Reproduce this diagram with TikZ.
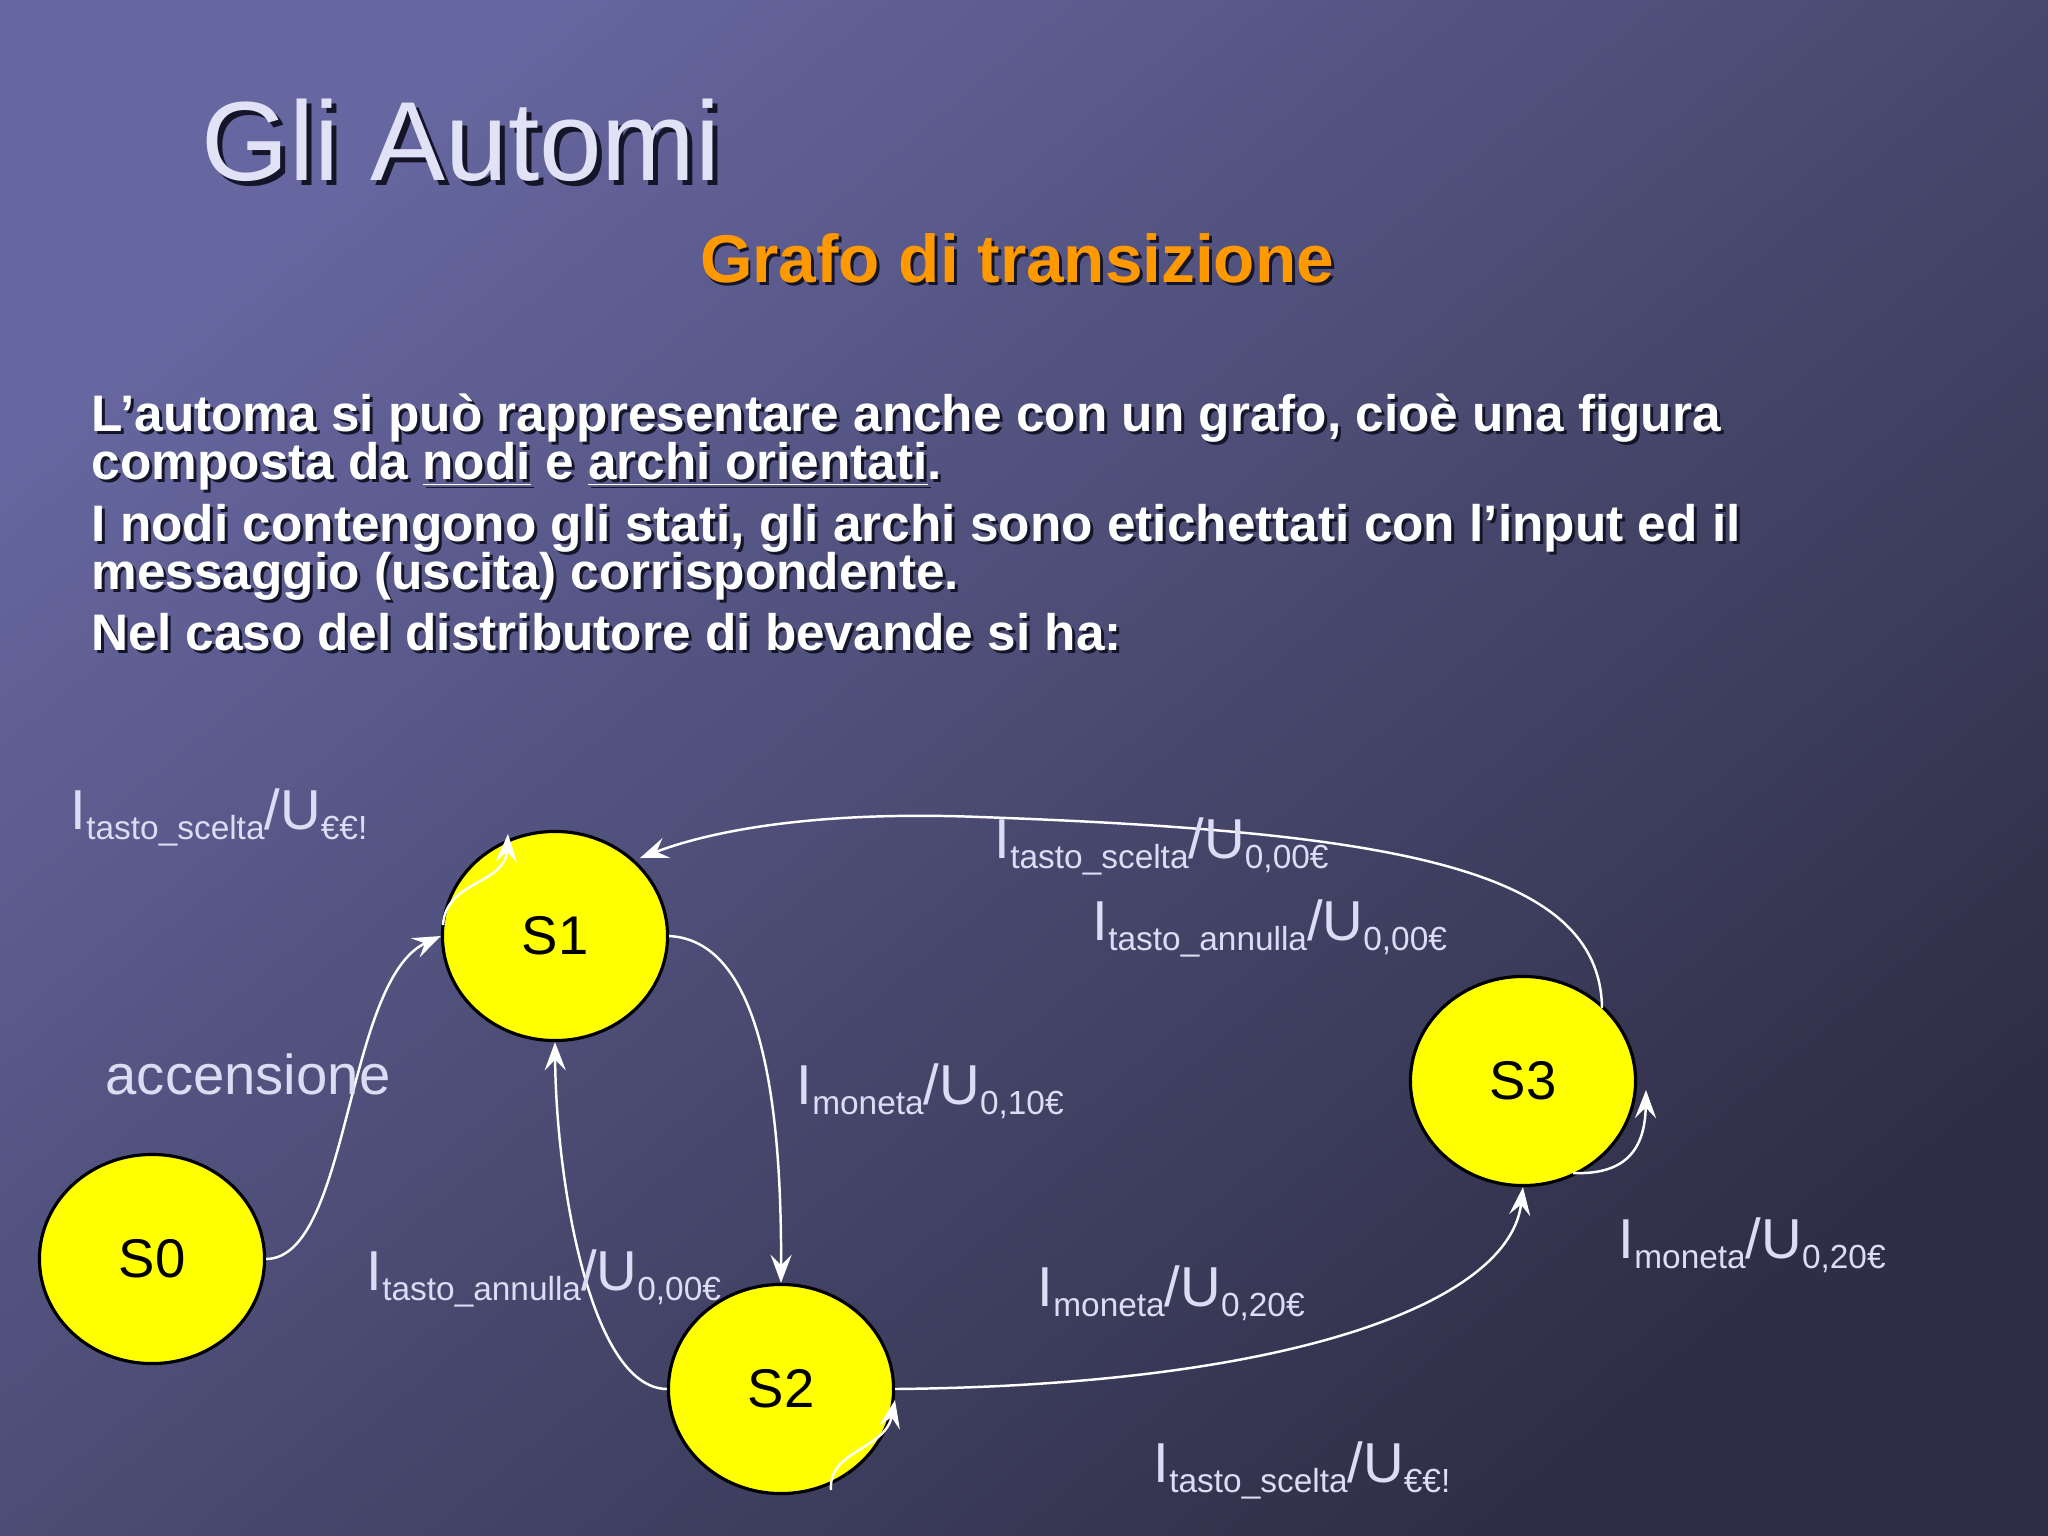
\documentclass[tikz,border=0pt]{standalone}
\usepackage{fontspec}
\setmainfont{Liberation Sans}
\usetikzlibrary{shapes.geometric,arrows.meta}
\definecolor{bgA}{HTML}{6666A0}
\definecolor{bgM}{HTML}{4A4A72}
\definecolor{bgB}{HTML}{2E2E46}
\definecolor{nodeyellow}{HTML}{FFFF00}
\definecolor{labcol}{HTML}{DCDCF4}
\definecolor{titlecol}{HTML}{E2E2F6}
\definecolor{orangecol}{HTML}{FF9900}
\definecolor{shadowcol}{HTML}{15152A}
\newcommand\trl[2]{I\raisebox{-3.1pt}{\fontsize{9.5}{11}\selectfont #1}/U\raisebox{-3.1pt}{\fontsize{9.5}{11}\selectfont #2}}
\tikzset{
  statenode/.style={ellipse, draw=black, line width=0.9pt, fill=nodeyellow, minimum width=2.25cm, minimum height=2.09cm, inner sep=0pt, font=\fontsize{15.5}{18}\selectfont, text=black},
  edgeline/.style={draw=white, line width=0.7pt, -{Stealth[length=8pt,width=6pt,inset=3pt]}},
  lab/.style={anchor=base west, inner sep=0pt, text=labcol, font=\fontsize{16}{19}\selectfont},
  bodytext/.style={anchor=base west, inner sep=0pt, text=white, font=\fontsize{14.6}{17}\selectfont\bfseries},
  bodyshadow/.style={bodytext, text=shadowcol}
}
\begin{document}
\begin{tikzpicture}[x=0.01cm,y=-0.01cm]
\useasboundingbox (0,0) rectangle (2048,1536);
\begin{scope}[y=0.01cm]
  \shade[shading=axis, top color=bgA, bottom color=bgB, middle color=bgM, shading angle=40] (0,-1536) rectangle (2048,0);
\end{scope}
% title
\node[anchor=base west, inner sep=0pt, text=shadowcol, font=\fontsize{32}{38}\selectfont] (ttls) at (206,185) {Gli Automi};
\node[anchor=base west, inner sep=0pt, text=titlecol, font=\fontsize{32}{38}\selectfont] (ttl) at (201,180) {Gli Automi};
\node[anchor=base, inner sep=0pt, text=shadowcol, font=\fontsize{19.2}{23}\selectfont\bfseries] (subs) at (1020,285) {Grafo di transizione};
\node[anchor=base, inner sep=0pt, text=orangecol, font=\fontsize{19.2}{23}\selectfont\bfseries] (sub) at (1017,282) {Grafo di transizione};
% body text
\node[bodyshadow] (b1s) at (94,434) {L’automa si può rappresentare anche con un grafo, cioè una figura};
\node[bodytext] (b1) at (91,431) {L’automa si può rappresentare anche con un grafo, cioè una figura};
\node[bodyshadow] (b2s) at (94,482) {composta da \underline{nodi} e \underline{archi orientati}.};
\node[bodytext] (b2) at (91,479) {composta da \underline{nodi} e \underline{archi orientati}.};
\node[bodyshadow] (b3s) at (94,544) {I nodi contengono gli stati, gli archi sono etichettati con l’input ed il};
\node[bodytext] (b3) at (91,541) {I nodi contengono gli stati, gli archi sono etichettati con l’input ed il};
\node[bodyshadow] (b4s) at (94,592) {messaggio (uscita) corrispondente.};
\node[bodytext] (b4) at (91,589) {messaggio (uscita) corrispondente.};
\node[bodyshadow] (b5s) at (94,653) {Nel caso del distributore di bevande si ha:};
\node[bodytext] (b5) at (91,650) {Nel caso del distributore di bevande si ha:};
% states
\node[statenode] (S0) at (152,1259) {S0};
\node[statenode] (S1) at (555,936) {S1};
\node[statenode] (S2) at (781,1389) {S2};
\node[statenode] (S3) at (1523,1081) {S3};
% edges
\draw[edgeline] (S0.east) .. controls (350,1258) and (345,980) .. (S1.west);
\coordinate (l1a) at (443,925);
\coordinate (l1b) at (508,834);
\draw[edgeline] (l1a) .. controls (446,880) and (505,885) .. (l1b);
\draw[edgeline] (S1.east) .. controls (745,940) and (782,1050) .. (S2.north);
\draw[edgeline] (S2.west) .. controls (590,1388) and (556,1180) .. (S1.south);
\coordinate (l2a) at (831,1490);
\coordinate (l2b) at (895,1400);
\draw[edgeline] (l2a) .. controls (828,1450) and (885,1450) .. (l2b);
\draw[edgeline] (S2.east) .. controls (1300,1385) and (1510,1300) .. (S3.south);
\coordinate (l3a) at (1573,1173);
\coordinate (l3b) at (1646,1090);
\draw[edgeline] (l3a) .. controls (1625,1175) and (1645,1150) .. (l3b);
\coordinate (t3) at (1602,1008);
\coordinate (tm) at (980,817);
\coordinate (t1) at (640,858);
\draw[edgeline] (t3) .. controls (1600,870) and (1400,832) .. (tm) .. controls (800,810) and (700,835) .. (t1);
% labels
\node[lab] (L1) at (70,829) {\trl{tasto\_scelta}{€€!}};
\node[lab] (L2) at (105,1094) {accensione};
\node[lab] (L3) at (994,858) {\trl{tasto\_scelta}{0,00€}};
\node[lab] (L4) at (1092,940) {\trl{tasto\_annulla}{0,00€}};
\node[lab] (L5) at (796,1104) {\trl{moneta}{0,10€}};
\node[lab] (L6) at (366,1290) {\trl{tasto\_annulla}{0,00€}};
\node[lab] (L7) at (1037,1306) {\trl{moneta}{0,20€}};
\node[lab] (L8) at (1618,1258) {\trl{moneta}{0,20€}};
\node[lab] (L9) at (1153,1482) {\trl{tasto\_scelta}{€€!}};
\end{tikzpicture}
\end{document}
